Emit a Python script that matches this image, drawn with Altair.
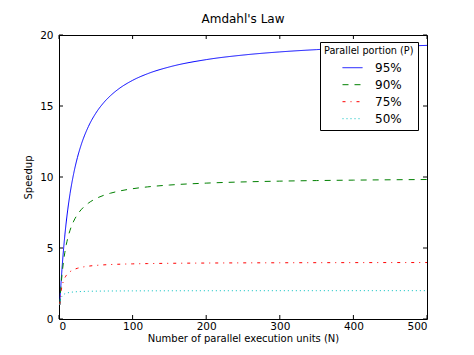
import altair as alt
import pandas as pd

# Number of parallel execution units (N)
n_units = [1, 2, 3, 4, 5, 6, 8, 10, 12, 15, 20, 25, 30, 40, 50, 60, 70, 80,
           100, 120, 150, 200, 250, 300, 350, 400, 450, 500]

# Speedup for each parallel portion
speedup_95 = [1.0, 1.905, 2.727, 3.478, 4.167, 4.8, 5.926, 6.897, 7.742, 8.824,
              10.256, 11.364, 12.245, 13.559, 14.493, 15.19, 15.73, 16.162,
              16.807, 17.266, 17.751, 18.265, 18.587, 18.809, 18.97, 19.093,
              19.19, 19.268]
speedup_90 = [1.0, 1.818, 2.5, 3.077, 3.571, 4.0, 4.706, 5.263, 5.714, 6.25,
              6.897, 7.353, 7.692, 8.163, 8.475, 8.696, 8.861, 8.989,
              9.174, 9.302, 9.434, 9.569, 9.653, 9.709, 9.749, 9.78, 9.804, 9.823]
speedup_75 = [1.0, 1.6, 2.0, 2.286, 2.5, 2.667, 2.909, 3.077, 3.2, 3.333,
              3.478, 3.571, 3.636, 3.721, 3.774, 3.81, 3.836, 3.855,
              3.883, 3.902, 3.922, 3.941, 3.953, 3.96, 3.966, 3.97, 3.974, 3.976]
speedup_50 = [1.0, 1.333, 1.5, 1.6, 1.667, 1.714, 1.778, 1.818, 1.846, 1.875,
              1.905, 1.923, 1.935, 1.951, 1.961, 1.967, 1.972, 1.975,
              1.98, 1.983, 1.987, 1.99, 1.992, 1.993, 1.994, 1.995, 1.996, 1.996]

series_labels = ["95%", "90%", "75%", "50%"]
series_colors = ["#0000ff", "#008000", "#ff0000", "#00bfbf"]
series_dashes = [[1, 0], [6, 6], [3, 5, 1, 5], [1, 3]]

x_ticks = [0, 100, 200, 300, 400, 500]
y_ticks = [0, 5, 10, 15, 20]

rows = []
for label, vals in zip(series_labels, [speedup_95, speedup_90, speedup_75, speedup_50]):
    for n, s in zip(n_units, vals):
        rows.append({"N": n, "Speedup": s, "P": label})
df = pd.DataFrame(rows)

W, H = 368, 284
FONT = "DejaVu Sans"

xscale = alt.Scale(domain=[0, 500], nice=False)
yscale = alt.Scale(domain=[0, 20], nice=False)

lines = alt.Chart(df).mark_line(strokeWidth=1, interpolate="monotone").encode(
    x=alt.X("N:Q", scale=xscale,
            axis=alt.Axis(values=x_ticks, title="Number of parallel execution units (N)",
                          ticks=False, domain=False, labelPadding=2, titlePadding=2)),
    y=alt.Y("Speedup:Q", scale=yscale,
            axis=alt.Axis(values=y_ticks, title="Speedup", ticks=False, domain=False,
                          labelPadding=6, titlePadding=6)),
    color=alt.Color("P:N", sort=series_labels,
                    scale=alt.Scale(domain=series_labels, range=series_colors),
                    legend=alt.Legend(title="Parallel portion (P)")),
    strokeDash=alt.StrokeDash("P:N", sort=series_labels,
                              scale=alt.Scale(domain=series_labels, range=series_dashes),
                              legend=alt.Legend(title="Parallel portion (P)")),
)

xt = pd.DataFrame({"v": x_ticks})
yt = pd.DataFrame({"v": y_ticks})
TL = 4
xtick_bottom = alt.Chart(xt).mark_rule(color="black", strokeWidth=1).encode(
    x=alt.X("v:Q", scale=xscale), y=alt.value(H), y2=alt.value(H - TL))
xtick_top = alt.Chart(xt).mark_rule(color="black", strokeWidth=1).encode(
    x=alt.X("v:Q", scale=xscale), y=alt.value(0), y2=alt.value(TL))
ytick_left = alt.Chart(yt).mark_rule(color="black", strokeWidth=1).encode(
    y=alt.Y("v:Q", scale=yscale), x=alt.value(0), x2=alt.value(TL))
ytick_right = alt.Chart(yt).mark_rule(color="black", strokeWidth=1).encode(
    y=alt.Y("v:Q", scale=yscale), x=alt.value(W), x2=alt.value(W - TL))

chart = alt.layer(lines, xtick_bottom, xtick_top, ytick_left, ytick_right).properties(
    width=W, height=H,
    title=alt.TitleParams("Amdahl's Law", fontSize=12, font=FONT, fontWeight="normal",
                          color="black", offset=4, frame="group"),
    autosize=alt.AutoSizeParams(type="none"),
    padding={"left": 51, "top": 27, "right": 39, "bottom": 30},
).configure_view(stroke="black", strokeWidth=1).configure_axis(
    labelFont=FONT, titleFont=FONT, labelFontSize=10.5, titleFontSize=10,
    labelColor="black", titleColor="black", titleFontWeight="normal", grid=False,
).configure_legend(
    orient="none", legendX=261, legendY=7,
    strokeColor="black", fillColor="white", padding=4, cornerRadius=0,
    titleFont=FONT, titleFontSize=9.7, titleFontWeight="normal", titleColor="black",
    labelFont=FONT, labelFontSize=12, labelColor="black",
    symbolType="stroke", symbolSize=400, symbolStrokeWidth=1, symbolOffset=18,
    labelOffset=12, rowPadding=3, clipHeight=14, titlePadding=5,
)

chart.save("out.html", embed_options={"renderer": "svg", "actions": False})
